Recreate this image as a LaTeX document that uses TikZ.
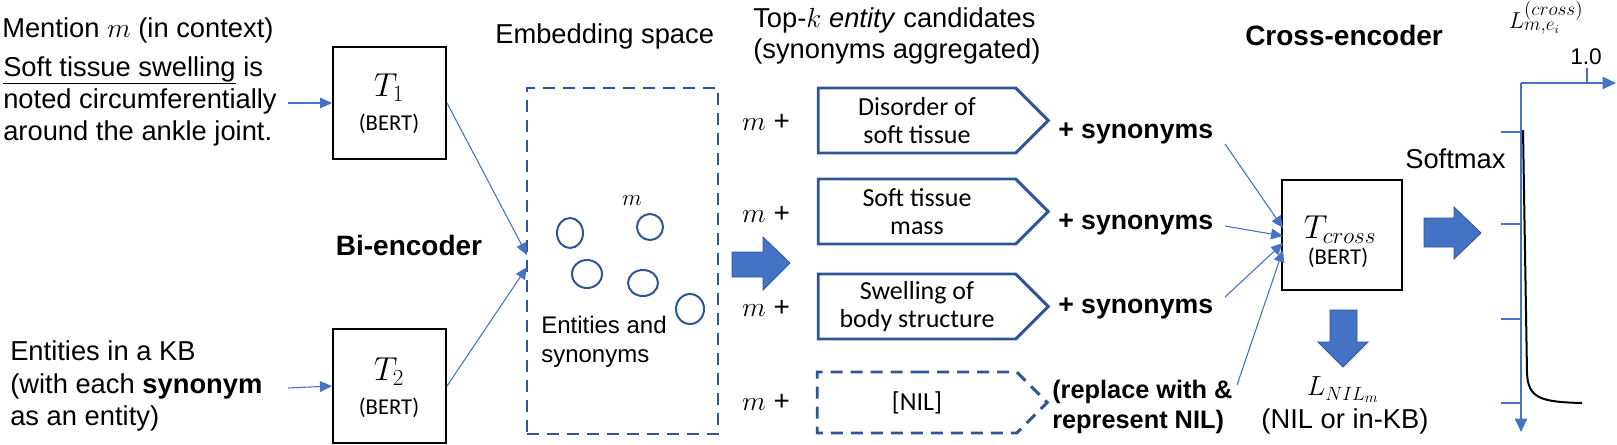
\documentclass[tikz,border=0pt]{standalone}
\usepackage{fontspec}
\setmainfont{Liberation Sans}
\newfontfamily\calib{Carlito}
\usetikzlibrary{arrows.meta,shapes.symbols}
\definecolor{ablue}{HTML}{4472C4}
\definecolor{dblue}{HTML}{2F5597}
\begin{document}
\begin{tikzpicture}[x=0.75pt,y=-0.75pt,
  txt/.style={inner sep=0pt,anchor=base west,font=\fontsize{20.5}{24}\selectfont},
  btxt/.style={txt,font=\fontsize{21}{24}\selectfont\bfseries},
  enc/.style={draw=black,line width=1.5pt,inner sep=0pt},
  thin/.style={ablue,line width=0.8pt,-{Triangle[length=9pt,width=8pt]}},
  cand/.style={signal,signal to=east,signal pointer angle=90,draw=dblue,line width=2.2pt,
     minimum width=230*0.75pt,minimum height=65*0.75pt,inner sep=0pt,align=center,
     font=\calib\fontsize{19.5}{21}\selectfont},
  bert/.style={inner sep=0pt,font=\calib\fontsize{17}{19}\selectfont},
  big/.style={fill=ablue,draw=dblue,line width=0.6pt},
  mplus/.style={inner sep=0pt,font=\fontsize{21}{24}\selectfont}]
\useasboundingbox (0,0) rectangle (1617,444);
% left texts
\node[txt] (m1) at (2,37) {Mention $m$ (in context)};
\node[txt] (s1) at (3,76) {\underline{Soft tissue swelling} is};
\node[txt] (s2) at (3,108) {noted circumferentially};
\node[txt] (s3) at (3,140) {around the ankle joint.};
\node[txt] (k1) at (10,360) {Entities in a KB};
\node[txt] (k2) at (10,393) {(with each \textbf{synonym}};
\node[txt] (k3) at (10,425) {as an entity)};
% encoders
\node[enc,minimum width=113*0.75pt,minimum height=112*0.75pt] (T1) at (389.5,103) {};
\node[inner sep=0pt,font=\fontsize{27}{29}\selectfont] (T1t) at (389,88) {$T_1$};
\node[bert] (T1b) at (389,124) {(BERT)};
\node[enc,minimum width=113*0.75pt,minimum height=114*0.75pt] (T2) at (389.5,386) {};
\node[inner sep=0pt,font=\fontsize{27}{29}\selectfont] (T2t) at (389,372) {$T_2$};
\node[bert] (T2b) at (389,408) {(BERT)};
\coordinate (i1) at (288,103);
\coordinate (i2) at (288,388);
\draw[thin] (i1) -- (T1.west);
\draw[thin] (i2) -- (T2.west);
\node[btxt,anchor=base] (bi) at (409,255) {Bi-encoder};
% embedding space
\node[txt] (es) at (495,43) {Embedding space};
\node[draw=dblue,dashed,dash pattern=on 9pt off 6pt,line width=1.5pt,minimum width=191*0.75pt,minimum height=346*0.75pt,inner sep=0pt] (emb) at (622.5,261) {};
\coordinate (e1) at (527,255);
\coordinate (e2) at (527,267);
\draw[thin] (T1.east) -- (e1);
\draw[thin] (T2.east) -- (e2);
\draw[dblue,line width=1.5pt] (570,233) ellipse (13 and 15);
\draw[dblue,line width=1.5pt] (650,227) ellipse (13 and 13);
\draw[dblue,line width=1.5pt] (587,274) ellipse (15 and 14);
\draw[dblue,line width=1.5pt] (643,283) ellipse (15 and 13);
\draw[dblue,line width=1.5pt] (690,309) ellipse (14 and 15);
\node[inner sep=0pt,font=\fontsize{19}{21}\selectfont] (mm) at (632,201) {$m$};
\node[txt,font=\fontsize{18}{21}\selectfont] (en1) at (541,333) {Entities and};
\node[txt,font=\fontsize{18}{21}\selectfont] (en2) at (541,362) {synonyms};
% big arrow right
\draw[big] (732,252) -- (763,252) -- (763,237) -- (790,263) -- (763,290) -- (763,277) -- (732,277) -- cycle;
% candidates
\node[txt] (tk1) at (753,27) {Top-$k$ \textit{entity} candidates};
\node[txt] (tk2) at (753,58) {(synonyms aggregated)};
\node[mplus] (mp1) at (766,122) {$m$ +};
\node[mplus] (mp2) at (766,214) {$m$ +};
\node[mplus] (mp3) at (766,308) {$m$ +};
\node[mplus] (mp4) at (766,402) {$m$ +};
\node[cand] (c1) at (917,120.5) {Disorder of\\soft tissue};
\node[cand] (c2) at (917,211.5) {Soft tissue\\mass};
\node[cand] (c3) at (917,306.5) {Swelling of\\body structure};
\node[cand,dashed,dash pattern=on 9pt off 6pt,minimum height=61*0.75pt] (c4) at (917,402.5) {[NIL]};
\node[btxt,font=\fontsize{20}{24}\selectfont\bfseries] (sy1) at (1058,138) {+ synonyms};
\node[btxt,font=\fontsize{20}{24}\selectfont\bfseries] (sy2) at (1058,229) {+ synonyms};
\node[btxt,font=\fontsize{20}{24}\selectfont\bfseries] (sy3) at (1058,313) {+ synonyms};
\node[btxt,font=\fontsize{19}{24}\selectfont\bfseries] (rp1) at (1052,398) {(replace with \&};
\node[btxt,font=\fontsize{19}{24}\selectfont\bfseries] (rp2) at (1052,428) {represent NIL)};
% cross encoder
\node[btxt] (ce) at (1245,45) {Cross-encoder};
\node[enc,minimum width=120*0.75pt,minimum height=110*0.75pt] (Tc) at (1342,235) {};
\node[inner sep=0pt,font=\fontsize{24}{26}\selectfont] (Tct) at (1340,230) {$T_{cross}$};
\node[bert] (Tcb) at (1338,258) {(BERT)};
\coordinate (a1) at (1225,144); \coordinate (b1) at (1283,228);
\coordinate (a2) at (1225,226); \coordinate (b2) at (1283,236);
\coordinate (a3) at (1225,297); \coordinate (b3) at (1283,243);
\coordinate (a4) at (1237,385); \coordinate (b4) at (1283,250);
\draw[thin] (a1) -- (b1);
\draw[thin] (a2) -- (b2);
\draw[thin] (a3) -- (b3);
\draw[thin] (a4) -- (b4);
% down arrow
\draw[big] (1330,310) -- (1357,310) -- (1357,342) -- (1368,342) -- (1343,367) -- (1318,342) -- (1330,342) -- cycle;
\node[inner sep=0pt,font=\fontsize{21}{23}\selectfont] (ln) at (1343,390) {$L_{NIL_m}$};
\node[txt,anchor=base] (nil) at (1345,428) {(NIL or in-KB)};
% softmax
\node[txt] (sm) at (1405,168) {Softmax};
\draw[big] (1424,218) -- (1454,218) -- (1454,207) -- (1481,233) -- (1454,259) -- (1454,247) -- (1424,247) -- cycle;
% plot
\coordinate (o) at (1521,83);
\coordinate (yb) at (1521,432);
\coordinate (xr) at (1616,83);
\draw[ablue,line width=1.5pt,-{Triangle[length=10pt,width=9pt]}] (o) -- (yb);
\draw[ablue,line width=1.5pt,-{Triangle[length=10pt,width=9pt]}] (o) -- (xr);
\draw[ablue,line width=0.8pt] (1587,68) -- (1587,83);
\foreach \yy in {132,224,319,403} \draw[ablue,line width=0.8pt] (1501,\yy) -- (1521,\yy);
\node[inner sep=0pt,anchor=base,font=\fontsize{17}{19}\selectfont] (one) at (1586,64) {1.0};
\node[inner sep=0pt,font=\fontsize{19}{21}\selectfont] (Lc) at (1546,18) {$L^{(cross)}_{m,e_i}$};
\draw[black,line width=1.5pt] (1523,130) -- (1527,373) .. controls (1528,398) and (1540,402) .. (1582,403);
\end{tikzpicture}
\end{document}
